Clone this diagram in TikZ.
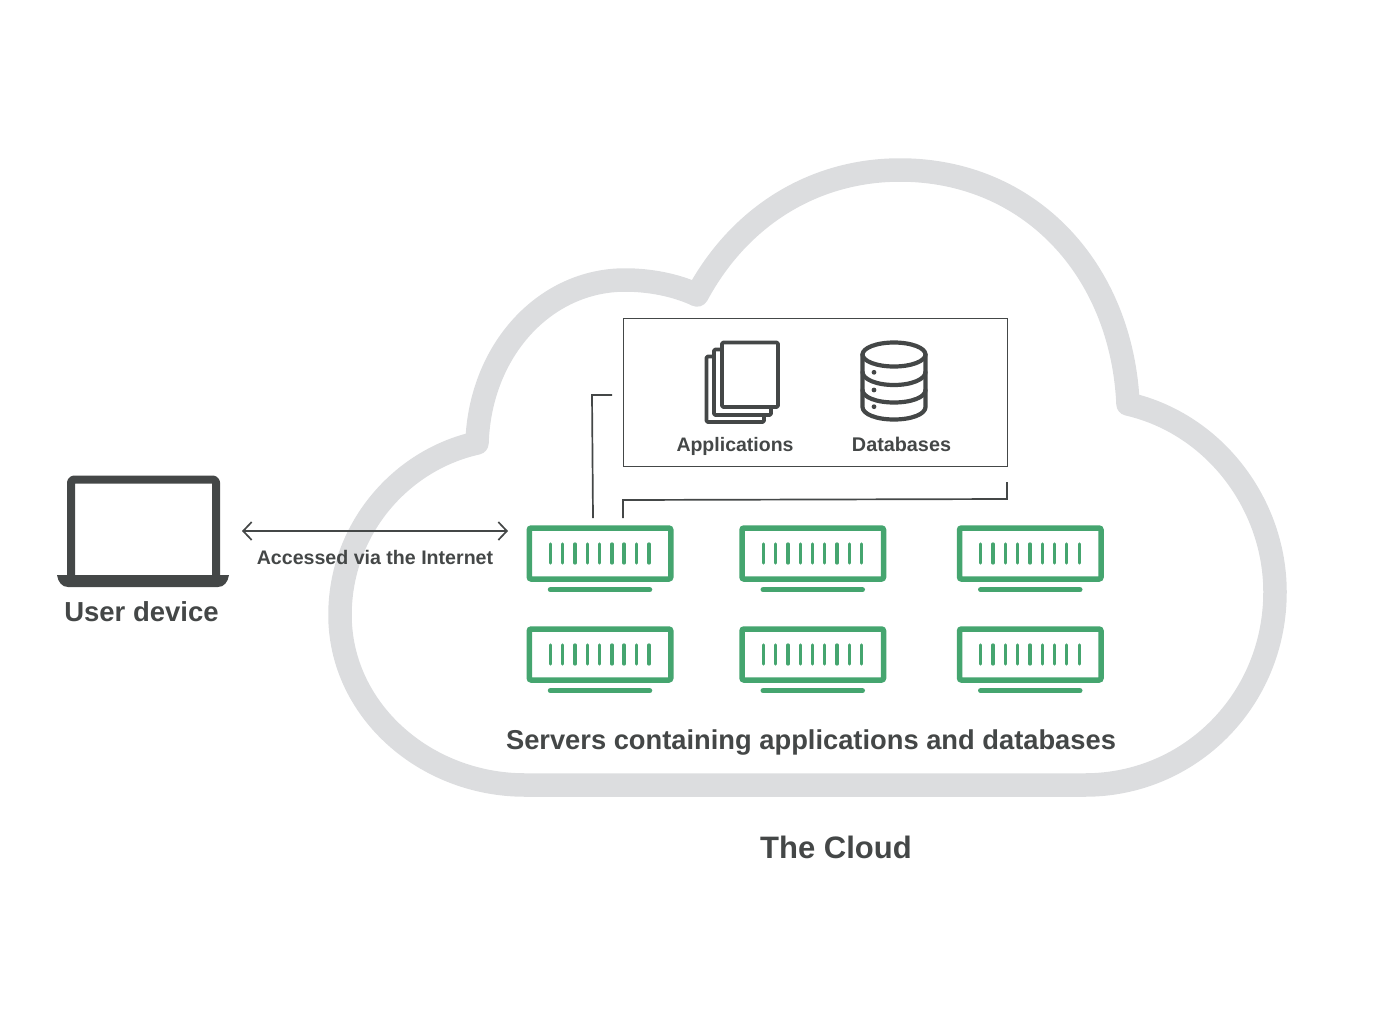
\documentclass[tikz,border=0pt]{standalone}
\usepackage{fontspec}
\setmainfont{Liberation Sans}
\usetikzlibrary{arrows.meta}
\definecolor{ink}{HTML}{444747}
\definecolor{cloudgray}{HTML}{DCDDDF}
\definecolor{srvgreen}{HTML}{45A56F}
\tikzset{
  lbl/.style={inner sep=0pt,text=ink,font=\bfseries,anchor=base},
  cloudline/.style={draw=cloudgray,line width=23.5pt,line join=round},
  thin line/.style={draw=ink,line width=1.7pt},
  iconline/.style={draw=ink,line width=3.7pt,line join=round,line cap=round,rounded corners=1.2pt},
  dbline/.style={draw=ink,line width=4.2pt,line join=round,line cap=round},
  srvbox/.style={draw=srvgreen,line width=5.5pt,rounded corners=2pt,minimum width=141.5pt,minimum height=51pt,inner sep=0pt,fill=none},
  srvtick/.style={draw=srvgreen,line width=3.3pt,line cap=round},
  srvbar/.style={draw=srvgreen,line width=5.5pt,line cap=round},
}
\begin{document}
\begin{tikzpicture}[x=1pt,y=-1pt]
\useasboundingbox (0,0) rectangle (1400,1015);
% cloud
\draw[cloudline] (697,295) .. controls (740,215) and (815,170) .. (900,170)
  .. controls (1030,170) and (1122,270) .. (1128,404)
  .. controls (1215,424) and (1275,505) .. (1275,592)
  .. controls (1275,700) and (1190,785) .. (1085,785)
  -- (525,785)
  .. controls (425,785) and (340,710) .. (340,615)
  .. controls (340,530) and (400,460) .. (477,443)
  .. controls (480,350) and (545,280) .. (625,280)
  .. controls (650,280) and (675,285) .. (695,294) -- cycle;
% laptop
\draw[draw=ink,line width=8pt,rounded corners=3pt,line join=round] (71,579) -- (71,479.5) -- (216,479.5) -- (216,579);
\fill[ink] (57,575) -- (229,575) .. controls (228,582) and (224,587) .. (218,587) -- (68,587) .. controls (62,587) and (58,582) .. (57,575) -- cycle;
\node[lbl,font=\bfseries\fontsize{27.5}{32}\selectfont] (user) at (141.5,621) {User device};
% arrow
\coordinate (aL) at (242,531);
\coordinate (aR) at (508,531);
\draw[thin line,{Straight Barb[length=8.5pt,width=18pt]}-{Straight Barb[length=8.5pt,width=18pt]}] (aL) -- (aR);
\node[lbl,font=\bfseries\fontsize{19.6}{23}\selectfont] (via) at (375,564) {Accessed via the Internet};
% box
\node[draw=ink,line width=1pt,minimum width=384pt,minimum height=148pt,inner sep=0pt] (box) at (815.2,392.5) {};
% apps icon
\draw[iconline] (722,342.5) rectangle (778,407);
\draw[iconline] (721,349.5) -- (714,349.5) -- (714,415) -- (771,415) -- (771,408);
\draw[iconline] (713,356.5) -- (706.5,356.5) -- (706.5,422) -- (764,422) -- (764,416);
\node[lbl,font=\bfseries\fontsize{19.5}{23}\selectfont] (apps) at (735,451.7) {Applications};
% db icon
\draw[dbline] (894,354.5) ellipse [x radius=31.5pt,y radius=12pt];
\draw[dbline] (862.5,354.5) -- (862.5,407) .. controls (862.5,414) and (876,419.5) .. (894,419.5) .. controls (912,419.5) and (925.5,414) .. (925.5,407) -- (925.5,354.5);
\draw[dbline] (862.5,372) .. controls (862.5,379) and (876,385) .. (894,385) .. controls (912,385) and (925.5,379) .. (925.5,372);
\draw[dbline] (862.5,390) .. controls (862.5,397) and (876,402.5) .. (894,402.5) .. controls (912,402.5) and (925.5,397) .. (925.5,390);
\foreach \yy in {372.3,390,406.7} \fill[ink] (874,\yy) circle (2.4pt);
\node[lbl,font=\bfseries\fontsize{19.8}{23}\selectfont] (dbs) at (901.5,451.7) {Databases};
% servers
\foreach \cx/\col in {600/a,812.75/b,1030.25/c}{
  \foreach \cy/\row in {553.5/1,654.5/2}{
    \node[srvbox] (s\col\row) at (\cx,\cy) {};
    \foreach \dx in {-49.5,-37.2,-24.9,-12.6,-0.3,11.9,24.1,36.4,49}{
      \draw[srvtick] (\cx+\dx,\cy-9.5) -- (\cx+\dx,\cy+9.5);
    }
    \draw[srvbar] (\cx-49.5,\cy+36.2) -- (\cx+49.5,\cy+36.2);
  }
}
% brackets
\coordinate (l0) at (593,518);
\coordinate (l1) at (592,395);
\coordinate (l2) at (612,395);
\coordinate (r0) at (623,518);
\coordinate (r1) at (623,500);
\coordinate (r2) at (1007,499);
\coordinate (r3) at (1007,482);
\draw[thin line,line join=miter] (l0) -- (l1) -- (l2);
\draw[thin line,line join=miter] (r0) -- (r1) -- (r2) -- (r3);
% captions
\node[lbl,font=\bfseries\fontsize{27.3}{32}\selectfont] (srv) at (811,749) {Servers containing applications and databases};
\node[lbl,font=\bfseries\fontsize{31}{36}\selectfont] (cloud) at (836,858) {The Cloud};
\end{tikzpicture}
\end{document}
